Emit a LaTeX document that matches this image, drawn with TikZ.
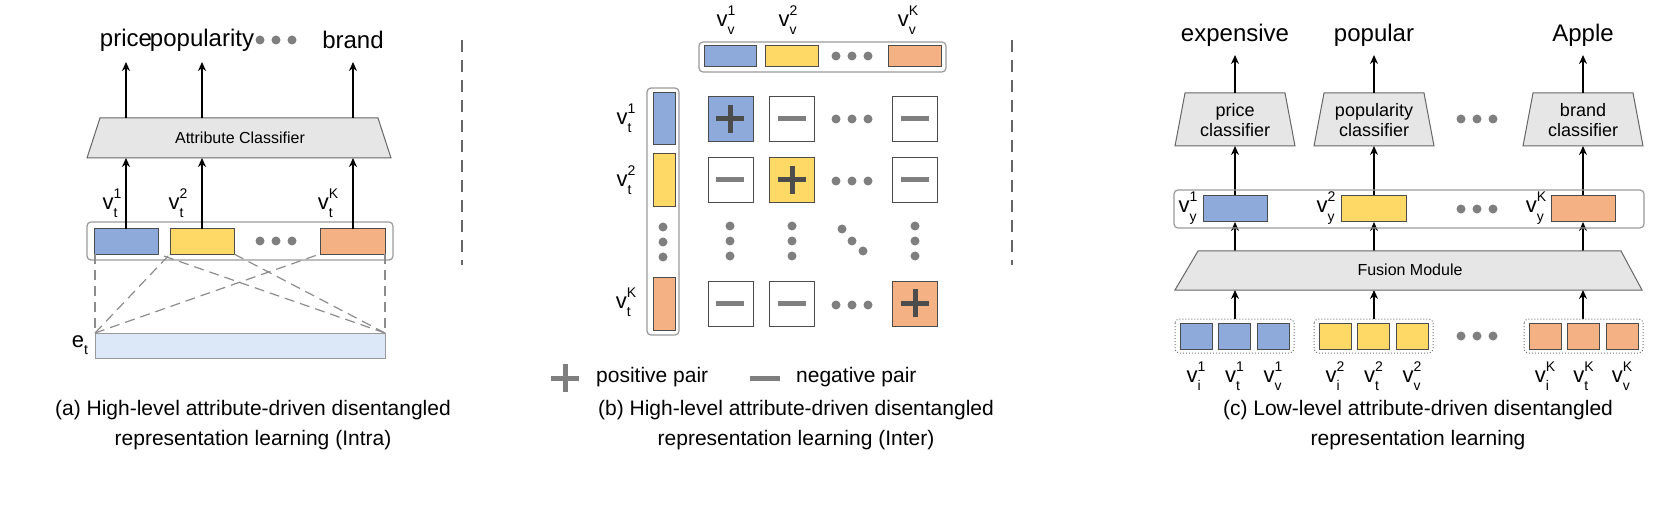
\documentclass[tikz,border=0pt]{standalone}
\usepackage{fontspec}
\setmainfont{Liberation Sans}
\usetikzlibrary{arrows.meta,shapes.geometric}
\definecolor{cb}{HTML}{8EAADB}
\definecolor{cy}{HTML}{FFD966}
\definecolor{co}{HTML}{F4B183}
\definecolor{ce}{HTML}{DCE8F8}
\definecolor{cg}{HTML}{E7E6E6}
\definecolor{dg}{HTML}{7F7F7F}
\newcommand\vlab[2]{v\makebox[0pt][l]{\raisebox{-0.38em}{\fontsize{14}{14}\selectfont #1}}\raisebox{0.5em}{\fontsize{14}{14}\selectfont #2}}
\tikzset{
 bx/.style={draw=black!70,line width=1pt},
 cont/.style={draw=black!40,line width=1.2pt,rounded corners=4pt},
 arr/.style={-{Stealth[length=9pt,width=8pt]},line width=1.8pt},
 dot/.style={fill=dg,draw=none},
 trap/.style={draw=black!60,fill=cg,line width=1pt},
 lab/.style={font=\fontsize{24}{28}\selectfont,inner sep=0pt},
 vl/.style={font=\fontsize{22}{24}\selectfont,inner sep=0pt},
 captxt/.style={font=\fontsize{21}{30}\selectfont,align=center},
 plus/.style={line width=5pt,draw=black!70},
 minus/.style={line width=5pt,draw=dg},
 cell/.style={draw=black!70,line width=1pt}
}
\newcommand\hdots[2]{\foreach \dx in {-16,0,16}{\fill[dot] (#1+\dx,#2) circle (4.5);}}
\begin{document}
\begin{tikzpicture}[x=1pt,y=-1pt]
\useasboundingbox (0,0) rectangle (1668,505);
% ===== panel a
\node[lab] (pa1) at (126,40) {price};
\node[lab] (pa2) at (202,40) {popularity};
\hdots{276}{40}
\node[lab] (pa3) at (353,40) {brand};
\draw[trap] (100,118) -- (378,118) -- (391,158) -- (87,158) -- cycle;
\node[font=\fontsize{16}{18}\selectfont] (ac) at (240,138) {Attribute Classifier};
\draw[cont] (87,222) rectangle (393,260);
\draw[bx,fill=cb] (94,229) rectangle (158,254);
\draw[bx,fill=cy] (170,229) rectangle (234,254);
\draw[bx,fill=co] (320,229) rectangle (385,254);
\hdots{276}{241}
\foreach \x in {126,202,353}{
 \draw[arr] (\x,229) -- (\x,158);
 \draw[arr] (\x,118) -- (\x,62);}
\node[vl] at (112,203) {\vlab{t}{1}};
\node[vl] at (178,203) {\vlab{t}{2}};
\node[vl] at (328,203) {\vlab{t}{K}};
\draw[bx,draw=black!40,fill=ce] (95,333) rectangle (385,358);
\node[vl] (et) at (80,345) {e\raisebox{-0.35em}{\fontsize{14}{14}\selectfont t}};
\begin{scope}[draw=black!45,line width=1.2pt,dash pattern=on 10pt off 6pt]
\draw (95,254) -- (95,333); \draw (385,254) -- (385,333);
\draw (95,333) -- (170,254); \draw (95,333) -- (320,254);
\draw (385,333) -- (158,254); \draw (385,333) -- (234,254);
\end{scope}
\node[captxt] (ca) at (253,425) {(a) High-level attribute-driven disentangled\\representation learning (Intra)};
% separators
\draw[draw=black!60,line width=1.8pt,dash pattern=on 12pt off 8pt] (462,40) -- (462,265);
\draw[draw=black!60,line width=1.8pt,dash pattern=on 12pt off 8pt] (1012,40) -- (1012,265);
% ===== panel b
\draw[cont] (699,42) rectangle (946,72);
\draw[bx,fill=cb] (704,46) rectangle (756,67);
\draw[bx,fill=cy] (765,46) rectangle (818,67);
\draw[bx,fill=co] (888,46) rectangle (941,67);
\hdots{852}{56}
\node[vl] at (726,20) {\vlab{v}{1}};
\node[vl] at (788,20) {\vlab{v}{2}};
\node[vl] at (908,20) {\vlab{v}{K}};
\draw[cont] (647,88) rectangle (679,335);
\draw[bx,fill=cb] (653,93) rectangle (675,145);
\draw[bx,fill=cy] (653,154) rectangle (675,207);
\draw[bx,fill=co] (653,277) rectangle (675,330);
\foreach \y in {227,242,257}{\fill[dot] (663,\y) circle (4.5);}
\node[vl] at (626,118) {\vlab{t}{1}};
\node[vl] at (626,180) {\vlab{t}{2}};
\node[vl] at (626,302) {\vlab{t}{K}};
\draw[cell,fill=cb] (708,97) rectangle (753,142);
\draw[cell] (769,97) rectangle (814,142);
\draw[cell] (892,97) rectangle (937,142);
\draw[cell] (708,158) rectangle (753,203);
\draw[cell,fill=cy] (769,158) rectangle (814,203);
\draw[cell] (892,158) rectangle (937,203);
\draw[cell] (708,281) rectangle (753,326);
\draw[cell] (769,281) rectangle (814,326);
\draw[cell,fill=co] (892,281) rectangle (937,326);
\foreach \cx/\cy in {730/119,792/180,915/303}{
 \draw[plus] (\cx-14,\cy) -- (\cx+14,\cy); \draw[plus] (\cx,\cy-14) -- (\cx,\cy+14);}
\foreach \cx/\cy in {792/119,915/119,730/180,915/180,730/303,792/303}{
 \draw[minus] (\cx-14,\cy) -- (\cx+14,\cy);}
\hdots{852}{119} \hdots{852}{181} \hdots{852}{305}
\foreach \x in {730,792,915}{\foreach \y in {226,241,256}{\fill[dot] (\x,\y) circle (4.5);}}
\fill[dot] (842,229) circle (4.5); \fill[dot] (852,241) circle (4.5); \fill[dot] (863,251) circle (4.5);
\draw[plus,draw=dg] (551,378) -- (579,378); \draw[plus,draw=dg] (565,364) -- (565,392);
\node[lab,anchor=west,font=\fontsize{21}{24}\selectfont] (pp) at (596,377) {positive pair};
\draw[minus] (750,378) -- (780,378);
\node[lab,anchor=west,font=\fontsize{21}{24}\selectfont] (np) at (796,377) {negative pair};
\node[captxt] (cb2) at (796,425) {(b) High-level attribute-driven disentangled\\representation learning (Inter)};
% ===== panel c
\node[lab] (e1) at (1235,35) {expensive};
\node[lab] (e2) at (1374,35) {popular};
\node[lab] (e3) at (1583,35) {Apple};
\foreach \c/\a/\b in {1235/price/classifier,1374/popularity/classifier,1583/brand/classifier}{
 \draw[trap] (\c-50,93) -- (\c+50,93) -- (\c+60,146) -- (\c-60,146) -- cycle;
 \node[font=\fontsize{18}{20}\selectfont,align=center,inner sep=0pt] at (\c,120) {\a\\\b};
 \draw[arr] (\c,93) -- (\c,55);
 \draw[arr] (\c,196) -- (\c,146);
 \draw[arr] (\c,251) -- (\c,222);
 \draw[arr] (\c,319) -- (\c,290);}
\hdots{1477}{119}
\draw[cont] (1174,190) rectangle (1644,228);
\draw[bx,fill=cb] (1203,196) rectangle (1267,222);
\draw[bx,fill=cy] (1341,196) rectangle (1406,222);
\draw[bx,fill=co] (1551,196) rectangle (1615,222);
\node[vl] at (1188,208) {\vlab{y}{1}};
\node[vl] at (1326,208) {\vlab{y}{2}};
\node[vl] at (1536,208) {\vlab{y}{K}};
\hdots{1477}{209}
\draw[trap] (1198,251) -- (1621,251) -- (1642,290) -- (1175,290) -- cycle;
\node[font=\fontsize{16}{18}\selectfont] (fm) at (1410,270) {Fusion Module};
\foreach \g/\col/\k in {1175/cb/1,1314/cy/2,1524/co/K}{
 \draw[draw=black!55,line width=1pt,dotted,rounded corners=4pt] (\g,319) rectangle (\g+119,353);
 \foreach \i/\s in {0/i,1/t,2/v}{
  \draw[bx,fill=\col] (\g+5+\i*38.5,323) rectangle (\g+37+\i*38.5,349);
  \node[vl] at (\g+21+\i*38.5,376) {\vlab{\s}{\k}};}}
\hdots{1477}{336}
\node[captxt] (cc) at (1418,425) {(c) Low-level attribute-driven disentangled\\representation learning};
\end{tikzpicture}
\end{document}
